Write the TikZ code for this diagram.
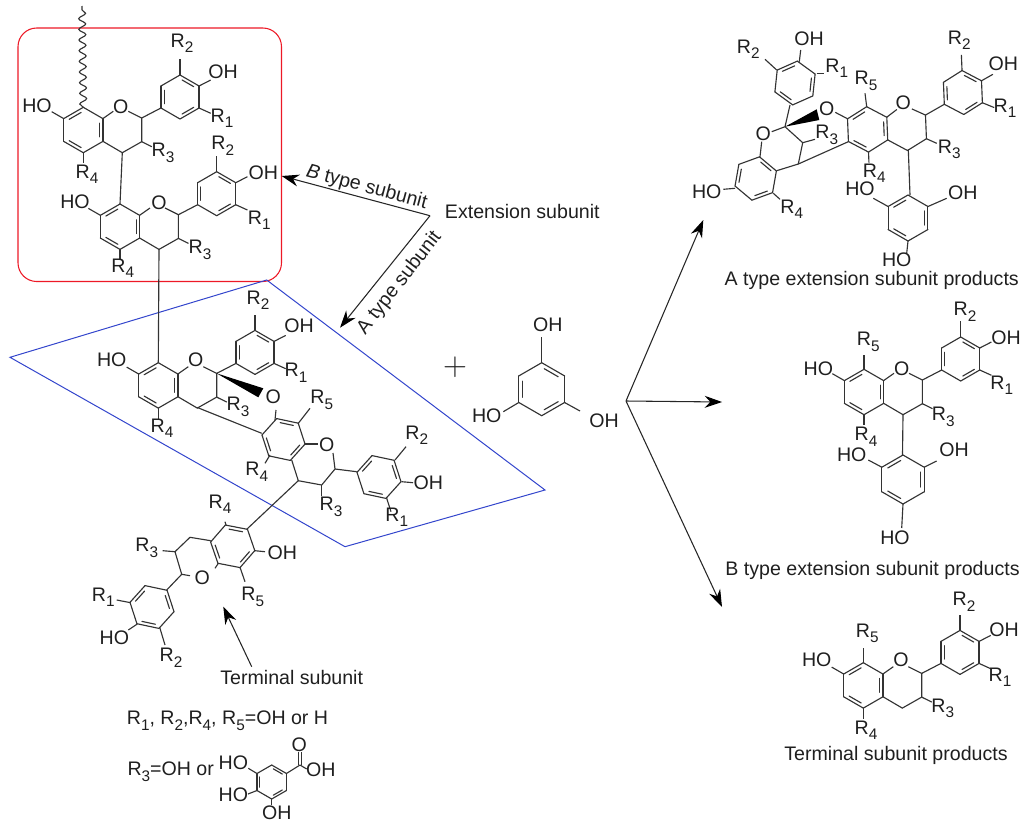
\documentclass[tikz,border=0pt]{standalone}
\usepackage{fontspec}
\setmainfont{Liberation Sans}
\usepackage{tikz}
\usetikzlibrary{arrows.meta,decorations.pathmorphing}
\definecolor{boxred}{rgb}{0.93,0.1,0.15}
\definecolor{boxblue}{rgb}{0.2,0.27,0.8}

\tikzset{
  bond/.style={draw=black!80,line width=0.85pt},
  lab/.style={inner sep=0pt,text=black!88,font=\fontsize{14.7}{17}\selectfont},
  reaction/.style={draw=black!85,line width=0.8pt,-{Stealth[length=13pt,width=9pt,black]}},
  phenyl/.style={draw=black!80,line width=0.85pt,line cap=round}
}

% R with a subscript
\newcommand{\Rn}[1]{R\raisebox{-0.28em}{\fontsize{11.5}{12}\selectfont #1}}

% x, y, radius, rotation, first double side
\newcommand{\hexring}[5]{%
  \foreach \k in {0,...,5} {
    \draw[phenyl] ({#1+#3*cos(#4+60*\k)},{#2+#3*sin(#4+60*\k)})
      -- ({#1+#3*cos(#4+60*\k+60)},{#2+#3*sin(#4+60*\k+60)});
  }
  \foreach \k in {0,2,4} {
    \draw[phenyl] ({#1+0.78*#3*cos(#4+60*#5+60*\k+7)},{#2+0.78*#3*sin(#4+60*#5+60*\k+7)})
      -- ({#1+0.78*#3*cos(#4+60*#5+60*\k+53)},{#2+0.78*#3*sin(#4+60*#5+60*\k+53)});
  }
}

% two ring unit, x and y of its top atom, rotation
\newcommand{\flavan}[3]{%
  \begin{scope}[shift={(#1,#2)},rotate=#3]
    \hexring{0}{22.7}{22.7}{-30}{0}
    \hexring{96.7}{-10.3}{22}{-30}{1}
    \draw[bond] (19.6,11.3) -- (30,4);
    \draw[bond] (45,4) -- (58.4,10.7) -- (58.4,34.4) -- (39,45.4) -- (19.6,34);
    \draw[bond] (58.4,10.7) -- (77.65,0.7);
    \draw[bond] (58.4,34.4) -- (68.5,39.4);
    \draw[bond] (0,45.4) -- (0,56);
    \draw[bond] (-19.6,11.3) -- (-31.6,4.4);
    \draw[bond] (96.7,-32.3) -- (96.7,-48);
    \draw[bond] (115.75,-21.3) -- (127.4,-27.3);
    \draw[bond] (115.75,0.7) -- (127.4,6);
  \end{scope}
}

\begin{document}
\begin{tikzpicture}[x=0.75pt,y=-0.75pt]
\useasboundingbox (0,0) rectangle (1024,825);

% frames
\draw[boxred,line width=0.8pt,rounded corners=14pt] (18,28) rectangle (281.5,281.5);
\draw[boxblue,line width=0.75pt] (266.7,280) -- (10,357.3) -- (345,546.7) -- (545,490) -- cycle;

% extension subunits
\flavan{83.3}{107.3}{0}
\flavan{120}{204}{0}
\flavan{158.3}{362.7}{0}
\draw[bond,decorate,decoration={snake,segment length=8pt,amplitude=2.6pt}] (83.3,107.3) -- (82,6);
\draw[bond] (122.3,152.7) -- (120,204);
\draw[bond] (159,249.4) -- (158.3,362.7);
\fill[black] (216.5,373.3) -- (263.3,388.3) -- (258.3,397.3) -- cycle;
\draw[bond] (276,410) -- (275,420);
\draw[bond] (197.3,407.5) -- (261.7,433.3);

% unit below the wedge
\hexring{283.5}{439.5}{22}{12}{0}
\hexring{379}{477}{22.5}{12}{1}
\draw[bond] (305,444) -- (318,444);
\draw[bond] (333,453) -- (335,469) -- (321.7,485) -- (298.3,480.7) -- (291.7,460);
\draw[bond] (335,469) -- (356.7,471.7);
\draw[bond] (321.7,485) -- (321.7,496);
\draw[bond] (395,460) -- (406,446.7);
\draw[bond] (401.7,481.7) -- (413,482.7);
\draw[bond] (386.7,498.3) -- (391,511.7);
\draw[bond] (298.3,423.3) -- (310,408.3);
\draw[bond] (270,455) -- (265,463.3);
\draw[bond] (298.3,480.7) -- (246.7,529.3);

% terminal unit
\hexring{232.7}{546.3}{22.5}{11}{0}
\hexring{152}{607}{22.5}{12}{1}
\draw[bond] (210.7,540.7) -- (190,537.3) -- (175,551.7) -- (181.7,574.3) -- (190,575.7);
\draw[bond] (215,568.3) -- (218.3,563.3);
\draw[bond] (175,551.7) -- (162.7,550.7);
\draw[bond] (181.7,574.3) -- (166.7,590);
\draw[bond] (130.7,602.7) -- (116.7,600);
\draw[bond] (137.3,624) -- (128.3,630);
\draw[bond] (160,628.3) -- (165,645);
\draw[bond] (255,550.7) -- (265,551.7);
\draw[bond] (240,567.3) -- (245,581.7);
\draw[bond] (226,525) -- (225,521.7);

% phloroglucinol
\hexring{541.7}{389.2}{26.5}{-30}{1}
\draw[bond] (541.7,362.7) -- (541.7,337);
\draw[bond] (518.8,402.5) -- (503.3,411.7);
\draw[bond] (564.6,402.5) -- (580,411);

% gallic acid
\hexring{271.7}{782}{17}{-30}{1}
\draw[bond] (286.4,773.5) -- (300,765);
\draw[bond] (298.7,765) -- (298.7,752);
\draw[bond] (301.3,765) -- (301.3,752);
\draw[bond] (300,765) -- (306.7,769);
\draw[bond] (257,773.5) -- (248.3,768.3);
\draw[bond] (257,790.5) -- (248,794);
\draw[bond] (271.7,799) -- (271.7,805);

% product with the A type link
\flavan{866.7}{106.7}{2.3}
\draw[bond] (866.7,106.7) -- (865,93.3);
\hexring{908}{218}{23}{-30}{0}
\draw[bond] (908.3,149.3) -- (910,195);
\draw[bond] (888.1,206.5) -- (873.3,198.3);
\draw[bond] (928,206.5) -- (946.7,198.3);
\draw[bond] (908,241) -- (906.7,253.3);
\hexring{795}{83}{22}{-24}{0}
\hexring{755.7}{178.5}{22}{-20}{1}
\draw[bond] (799.3,61.7) -- (800.7,50);
\draw[bond] (776.7,70) -- (765,59.3);
\draw[bond] (816.7,73.3) -- (824,73.3);
\draw[bond] (790,105) -- (785,126.7) -- (771.7,131.7);
\draw[bond] (761.7,141.7) -- (760,156.7);
\draw[bond] (785,126.7) -- (802.7,142.7) -- (798.3,164) -- (776.7,170.7);
\draw[bond] (798.3,164) -- (848.3,141.7);
\draw[bond] (802.7,142.7) -- (815,139.3);
\draw[bond] (735,188.3) -- (723.3,189.3);
\draw[bond] (773.3,193.3) -- (780,199.3);
\fill[black] (785,126.7) -- (816.7,109.3) -- (819.3,120) -- cycle;

% product with the B type link
\flavan{864}{369.3}{0}
\draw[bond] (864,369.3) -- (864,355);
\hexring{903}{479.5}{24.5}{-30}{0}
\draw[bond] (903,414.7) -- (902.5,455);
\draw[bond] (881.8,467.2) -- (868.3,460);
\draw[bond] (924.2,467.2) -- (936.7,461);
\draw[bond] (903,504) -- (901.7,528);

% terminal product
\flavan{863.3}{662.7}{0}
\draw[bond] (863.3,662.7) -- (863.3,648);

% labels
\begin{scope}[every node/.style={lab}]
    \node (hoa) at (37,106) {HO};
    \node (ra4) at (87,174) {\Rn{4}};
    \node (ra3) at (163,153) {\Rn{3}};
    \node (ra1) at (222,118) {\Rn{1}};
    \node (oha) at (223,72) {OH};
    \node (ra2) at (182,43) {\Rn{2}};
    \node (oa) at (120.7,106.5) {O};
    \node (hob) at (75,201.7) {HO};
    \node (rb4) at (122.7,268.3) {\Rn{4}};
    \node (rb3) at (200,250) {\Rn{3}};
    \node (rb1) at (259.3,220) {\Rn{1}};
    \node (ohb) at (263.3,172.7) {OH};
    \node (rb2) at (222.7,145.7) {\Rn{2}};
    \node (ob) at (159,203) {O};
    \node (hoc) at (111.7,360) {HO};
    \node (rc4) at (162,428) {\Rn{4}};
    \node (rc3) at (238,406.7) {\Rn{3}};
    \node (rc1) at (296,372.7) {\Rn{1}};
    \node (ohc) at (299,326) {OH};
    \node (rc2) at (258,300) {\Rn{2}};
    \node (oc) at (195.7,359.3) {O};
    \node (ocd) at (273.3,396.7) {O};
    \node (rd5) at (321.7,400) {\Rn{5}};
    \node (od) at (326.7,445) {O};
    \node (rd4) at (256.7,471.7) {\Rn{4}};
    \node (rd3) at (331,507) {\Rn{3}};
    \node (rd2) at (416.7,435) {\Rn{2}};
    \node (ohd) at (428.3,482.3) {OH};
    \node (rd1) at (396.7,517.3) {\Rn{1}};
    \node (re4) at (220,504) {\Rn{4}};
    \node (ohe) at (282.3,552.3) {OH};
    \node (re3) at (146.7,547.7) {\Rn{3}};
    \node (oe) at (202.3,577.3) {O};
    \node (re5) at (252.7,596.7) {\Rn{5}};
    \node (re1) at (103.3,597.3) {\Rn{1}};
    \node (hoe) at (114.3,637.3) {HO};
    \node (re2) at (171,657.7) {\Rn{2}};
    \node (ohf) at (547.7,325) {OH};
    \node (hof) at (486.7,416) {HO};
    \node (ohg) at (604,421) {OH};
    \node (plus) at (455,367.7) {\fontsize{27}{27}\selectfont$+$};
    \node (extension) at (522.3,211.7) {Extension subunit};
    \node[rotate=-15] (btype) at (366.7,187.5) {\textit{B} type subunit};
    \node[rotate=52] (atype) at (399.5,283) {A type subunit};
    \node (terminal) at (291.7,677.5) {Terminal subunit};
    \node (defa) at (227.5,720.5) {\Rn{1}, \Rn{2},\Rn{4}, \Rn{5}=OH or H};
    \node (defb) at (170.7,771.7) {\Rn{3}=OH or};
    \node (hog) at (233.3,762.7) {HO};
    \node (hoh) at (233.3,795) {HO};
    \node (ohh) at (276.7,812.7) {OH};
    \node (og) at (299.3,745) {O};
    \node (ohi) at (320.7,770) {OH};
    % top right
    \node (ohj) at (809,38.3) {OH};
    \node (rj2) at (748.3,49.3) {\Rn{2}};
    \node (rj1) at (836.7,68.3) {\Rn{1}};
    \node (oj) at (763.3,134) {O};
    \node (rj3) at (826.7,135) {\Rn{3}};
    \node (hoj) at (706.7,191.7) {HO};
    \node (rj4) at (791.7,209.3) {\Rn{4}};
    \node (ok) at (826.7,108.3) {O};
    \node (rk5) at (866,80.7) {\Rn{5}};
    \node (okr) at (903.3,102.7) {O};
    \node (rk2) at (959.3,40) {\Rn{2}};
    \node (ohk) at (1003.3,64) {OH};
    \node (rk1) at (1005,108.3) {\Rn{1}};
    \node (rk3) at (949.3,149.3) {\Rn{3}};
    \node (rk4) at (874.3,173.3) {\Rn{4}};
    \node (hol) at (860,188.3) {HO};
    \node (ohl) at (962.7,192.7) {OH};
    \node (hom) at (896.7,260) {HO};
    \node (capa) at (871.7,280.5) {A type extension subunit products};
    % middle right
    \node (rn5) at (868.3,341.7) {\Rn{5}};
    \node (hon) at (818.3,368.3) {HO};
    \node (on) at (901.7,368.3) {O};
    \node (rn2) at (965,311.7) {\Rn{2}};
    \node (ohn) at (1006,337.3) {OH};
    \node (rn1) at (1001.7,385) {\Rn{1}};
    \node (rn3) at (943.3,416.7) {\Rn{3}};
    \node (rn4) at (866,436.7) {\Rn{4}};
    \node (hoo) at (851.7,455) {HO};
    \node (oho) at (954,450) {OH};
    \node (hop) at (895,537.3) {HO};
    \node (capb) at (872.5,570.5) {B type extension subunit products};
    % bottom right
    \node (rq5) at (867.3,633.3) {\Rn{5}};
    \node (hoq) at (816.7,659.3) {HO};
    \node (oq) at (901,660) {O};
    \node (rq2) at (964,601.7) {\Rn{2}};
    \node (ohq) at (1004,629.3) {OH};
    \node (rq1) at (1000,677.3) {\Rn{1}};
    \node (rq3) at (942.7,708.3) {\Rn{3}};
    \node (rq4) at (866,730) {\Rn{4}};
    \node (capt) at (896,755) {Terminal subunit products};
\end{scope}

% arrows
\coordinate (corner) at (430,215.7);
\coordinate (btip) at (281.7,176);
\coordinate (atip) at (340,327.7);
\coordinate (termfoot) at (251.7,666.7);
\coordinate (termtip) at (223.3,606.7);
\coordinate (hub) at (626,401);
\coordinate (uptip) at (703.3,220);
\coordinate (midtip) at (722,402);
\coordinate (downtip) at (722,607);
\draw[reaction] (corner) -- (btip);
\draw[reaction] (corner) -- (atip);
\draw[reaction] (termfoot) -- (termtip);
\draw[reaction] (hub) -- (uptip);
\draw[reaction] (hub) -- (midtip);
\draw[reaction] (hub) -- (downtip);

\end{tikzpicture}
\end{document}
